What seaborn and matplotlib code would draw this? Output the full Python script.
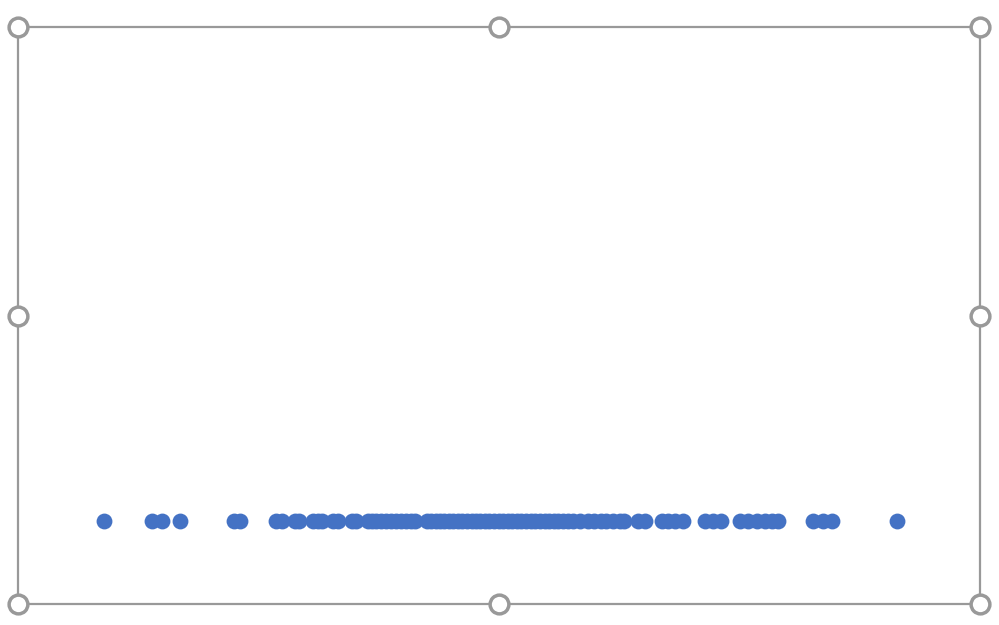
import matplotlib
matplotlib.use("Agg")
import matplotlib.pyplot as plt
import seaborn as sns
import pandas as pd

# Values (arbitrary 0-100 horizontal scale)
values = [8.9, 13.9, 15.0, 16.8, 22.5, 23.1, 26.8, 27.4, 28.8, 29.2, 30.7, 31.2,
          31.6, 32.7, 33.3, 34.7, 35.1, 36.4, 36.8, 37.2, 37.7, 38.3, 38.8, 39.3,
          39.8, 40.3, 40.9, 41.3, 42.5, 42.9, 43.5, 43.9, 44.3, 44.8, 45.2, 45.7,
          46.2, 46.7, 47.2, 47.6, 48.0, 48.5, 49.0, 49.5, 50.0, 50.4, 50.9, 51.4,
          51.9, 52.3, 52.8, 53.3, 53.7, 54.3, 54.8, 55.2, 55.7, 56.1, 56.7, 57.2,
          57.7, 58.4, 59.3, 59.9, 60.6, 61.1, 61.9, 62.6, 63.0, 64.4, 65.2, 66.9,
          67.6, 68.3, 69.1, 71.4, 72.2, 73.1, 75.1, 75.9, 76.8, 77.7, 78.4, 79.0,
          82.6, 83.7, 84.6, 91.4]
level = [1] * len(values)

df = pd.DataFrame({"value": values, "level": level})

sns.set_style("white")
fig = plt.figure(figsize=(9.99, 6.25), dpi=100)
ax = fig.add_axes([18 / 999, 21 / 625, 962 / 999, 577 / 625])

sns.scatterplot(data=df, x="value", y="level", color="#4472C4", s=130,
                linewidth=0, ax=ax, legend=False, zorder=3)

ax.set_xlim(0, 100)
ax.set_ylim(-0.01, 6.99)
ax.set_xticks([])
ax.set_yticks([])
ax.set_xlabel("")
ax.set_ylabel("")

frame_color = "#999999"
for sp in ax.spines.values():
    sp.set_visible(True)
    sp.set_color(frame_color)
    sp.set_linewidth(1.6)

# selection handles
hx = [0, 0.5, 1, 0, 1, 0, 0.5, 1]
hy = [1, 1, 1, 0.5, 0.5, 0, 0, 0]
ax.plot(hx, hy, linestyle="none", marker="o", markersize=13.5,
        markerfacecolor="white", markeredgecolor=frame_color,
        markeredgewidth=2.5, transform=ax.transAxes, clip_on=False, zorder=5)

fig.savefig("out.png", dpi=100)
